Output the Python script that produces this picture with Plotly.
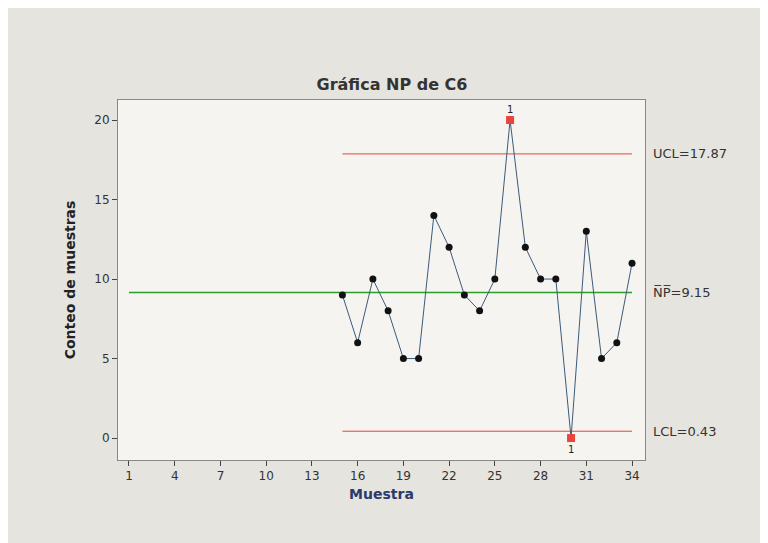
import plotly.graph_objects as go

muestra = list(range(15, 35))
conteo = [9, 6, 10, 8, 5, 5, 14, 12, 9, 8, 10, 20, 12, 10, 10, 0, 13, 5, 6, 11]
ucl, cl, lcl = 17.87, 9.15, 0.43
fuera = [26, 30]
tick_vals = list(range(1, 35, 3))

fig = go.Figure()
fig.add_trace(go.Scatter(x=[15, 34], y=[ucl, ucl], mode="lines",
                         line=dict(color="#e8453c", width=1)))
fig.add_trace(go.Scatter(x=[15, 34], y=[lcl, lcl], mode="lines",
                         line=dict(color="#e8453c", width=1)))
fig.add_trace(go.Scatter(x=[1, 34], y=[cl, cl], mode="lines",
                         line=dict(color="#2aa02a", width=1.5)))
fig.add_trace(go.Scatter(x=muestra, y=conteo, mode="lines+markers",
                         line=dict(color="#3b5b7a", width=1),
                         marker=dict(color="#111", size=7)))
fy = [conteo[muestra.index(m)] for m in fuera]
fig.add_trace(go.Scatter(x=fuera, y=fy, mode="markers",
                         marker=dict(color="#e8453c", size=8, symbol="square")))
fig.add_annotation(x=26, y=20, text="1", showarrow=False, yshift=11,
                   font=dict(size=10, color="#222"))
fig.add_annotation(x=30, y=0, text="1", showarrow=False, yshift=-11,
                   font=dict(size=10, color="#222"))

for val, txt in [(ucl, "UCL=17.87"), (cl, "N\u0305P\u0305=9.15"), (lcl, "LCL=0.43")]:
    fig.add_annotation(x=1.0, xref="paper", y=val, text=txt, showarrow=False,
                       xanchor="left", xshift=6, font=dict(size=13, color="#333"))

fig.update_layout(
    width=768, height=543,
    margin=dict(l=110, r=131, t=92, b=91),
    paper_bgcolor="#e6e4de", plot_bgcolor="#f5f4f0",
    showlegend=False,
    font=dict(family="DejaVu Sans", color="#333"),
    title=dict(text="<b>Gráfica NP de C6</b>", x=0.5, y=0.87,
               font=dict(size=16, color="#333")),
    xaxis=dict(title=dict(text="<b>Muestra</b>", font=dict(size=14, color="#2a3a6a"), standoff=6),
               range=[0.28, 34.85], tickvals=tick_vals, ticks="outside",
               showgrid=False, zeroline=False, showline=True, linecolor="#888", mirror=True),
    yaxis=dict(title=dict(text="<b>Conteo de muestras</b>", font=dict(size=14, color="#222")),
               range=[-1.38, 21.26], tickvals=[0, 5, 10, 15, 20], ticks="outside",
               showgrid=False, zeroline=False, showline=True, linecolor="#888", mirror=True),
)
fig.write_html("out.html")
